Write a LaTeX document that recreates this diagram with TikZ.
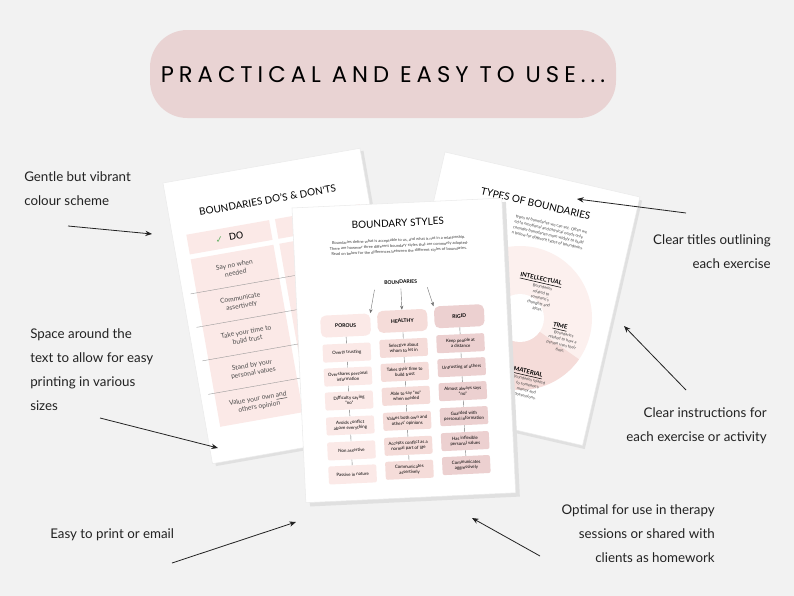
\documentclass[tikz,border=0pt]{standalone}
\usepackage{fontspec}
\setmainfont{Lato}
\newfontfamily\titlefont[LetterSpace=22]{Poppins}
\newfontfamily\symfont{DejaVu Sans}
\usetikzlibrary{arrows.meta,positioning}
\definecolor{bg}{HTML}{F2F2F2}
\definecolor{pill}{HTML}{E9D3D3}
\definecolor{pa}{HTML}{FBE9E7}
\definecolor{pb}{HTML}{F5DCD9}
\definecolor{pc}{HTML}{ECD0D0}
\definecolor{ink}{HTML}{222222}
\tikzset{
 note/.style={font=\fontsize{10}{18}\selectfont, text=ink, align=left, inner sep=0},
 noter/.style={note, align=right},
 pointer/.style={-{Stealth[length=5pt,width=4pt]}, ink, line width=0.6pt},
 page/.style={fill=white, draw=black!8},
 shadow/.style={fill=black!12},
 cell/.style={rounded corners=1.5pt, minimum width=36pt, minimum height=13.5pt, font=\fontsize{3.3}{4}\selectfont, align=center, inner sep=0.5pt, transform shape},
 head/.style={rounded corners=4pt, minimum width=37.5pt, minimum height=16.5pt, font=\bfseries\fontsize{3.8}{4}\selectfont, transform shape},
 tiny/.style={font=\fontsize{3}{4.2}\selectfont, align=center, transform shape, text=black!75},
 ptitle/.style={font=\fontsize{7.5}{8}\selectfont, transform shape},
 link/.style={black!55, line width=0.3pt},
}
\begin{document}
\begin{tikzpicture}[x=0.75pt,y=-0.75pt]
\fill[bg] (0,0) rectangle (794,596);
\useasboundingbox (0,0) rectangle (794,596);
% title pill
\fill[pill, rounded corners=28] (150,30) rectangle (616,118);
\node (title) at (383,75) {\titlefont\fontsize{17}{20}\selectfont PRACTICAL AND EASY TO USE...};

% ---------- left page
\begin{scope}[shift={(163,183)}, rotate=10]
 \fill[shadow] (3,3) rectangle (203,288);
 \path[page] (0,0) rectangle (200,285);
 \node[ptitle] (lt) at (100,35) {BOUNDARIES DO'S \& DON'TS};
 \fill[pa] (14,55) rectangle (98,75);
 \fill[pa] (104,55) rectangle (190,75);
 \node[transform shape, font=\fontsize{7}{8}\selectfont] (ldo) at (56,65) {\symfont\textcolor{green!50!black!60}{✓}\ \ DO};
 \fill[pa] (14,80) rectangle (98,250);
 \fill[pa] (104,80) rectangle (190,250);
 \foreach \y in {114,148,182,216} \draw[black!40, line width=0.3pt] (8,\y) -- (196,\y);
 \node[transform shape, font=\fontsize{5}{6}\selectfont, align=center, text=black!70] (l1) at (56,97) {Say no when\\needed};
 \node[transform shape, font=\fontsize{5}{6}\selectfont, align=center, text=black!70] (l2) at (56,131) {Communicate\\assertively};
 \node[transform shape, font=\fontsize{5}{6}\selectfont, align=center, text=black!70] (l3) at (56,165) {Take your time to\\build trust};
 \node[transform shape, font=\fontsize{5}{6}\selectfont, align=center, text=black!70] (l4) at (56,199) {Stand by your\\personal values};
 \node[transform shape, font=\fontsize{5}{6}\selectfont, align=center, text=black!70] (l5) at (56,233) {Value your own \underline{and}\\others opinion};
\end{scope}

% ---------- right page
\begin{scope}[shift={(445,152)}, rotate=-13]
 \fill[shadow] (3,3) rectangle (203,258);
 \path[page] (0,0) rectangle (200,255);
 \node[ptitle] (rt) at (100,30) {TYPES OF BOUNDARIES};
 \node[tiny, align=left] (rp) at (120,55) {types of boundaries we can set. Often we\\ed to emotional and physical needs only.\\consider boundaries more widely to build\\n below for different types of boundaries.};
\end{scope}
% donut
\fill[pa!70] (520,318) circle (72);
\fill[pb] (520,318) -- ++(35:72) arc (35:150:72) -- cycle;
\fill[white] (520,318) circle (24);
\node[transform shape, font=\bfseries\fontsize{4.5}{5}\selectfont, rotate=-13] (ti) at (541,280) {\underline{INTELLECTUAL}};
\node[tiny, rotate=-13] (tid) at (540,298) {Boundaries\\related to\\someone's\\thoughts and\\ideas.};
\node[transform shape, font=\bfseries\fontsize{4.5}{5}\selectfont, rotate=-13] (tt) at (560,327) {\underline{TIME}};
\node[tiny, rotate=-13] (ttd) at (562,342) {Boundaries\\related to how a\\person uses their\\time.};
\node[transform shape, font=\bfseries\fontsize{4.5}{5}\selectfont, rotate=-13] (tm) at (528,373) {\underline{MATERIAL}};
\node[tiny, rotate=-13] (tmd) at (527,388) {Boundaries related\\to someone's\\money and\\possessions.};

% ---------- middle page
\begin{scope}[shift={(292,208)}, rotate=2.7]
 \fill[shadow] (4,4) rectangle (214,299);
 \path[page] (0,0) rectangle (210,295);
 \node[ptitle] (mt) at (105,20) {BOUNDARY STYLES};
 \node[tiny] (mp) at (105,43) {Boundaries define what is acceptable to us, and what is not in a relationship.\\There are however three different boundary styles that are commonly adopted.\\Read on below for the differences between the different styles of boundaries.};
 \node[transform shape, font=\bfseries\fontsize{3.8}{4}\selectfont] (root) at (105,79) {BOUNDARIES};
 \node[head, fill=pa] (hp) at (48,120) {POROUS};
 \node[head, fill=pb] (hh) at (105,118) {HEALTHY};
 \node[head, fill=pc] (hr) at (162,116) {RIGID};
 \draw[link, -{Stealth[length=3pt,width=2.5pt]}] ([xshift=-4]root.south west) -- (hp.north east);
 \draw[link, -{Stealth[length=3pt,width=2.5pt]}] (root.south) -- (hh.north);
 \draw[link, -{Stealth[length=3pt,width=2.5pt]}] ([xshift=4]root.south east) -- (hr.north west);
 % porous
 \node[cell, fill=pa] (p1) at (48,147) {Overly trusting};
 \node[cell, fill=pa] (p2) at (48,171) {Overshares personal\\information};
 \node[cell, fill=pa] (p3) at (48,195) {Difficulty saying\\``no''};
 \node[cell, fill=pa] (p4) at (48,220) {Avoids conflict\\above everything};
 \node[cell, fill=pa] (p5) at (48,245) {Non assertive};
 \node[cell, fill=pa] (p6) at (48,269) {Passive in nature};
 % healthy
 \node[cell, fill=pb] (h1) at (105,145) {Selective about\\whom to let in};
 \node[cell, fill=pb] (h2) at (105,169) {Takes their time to\\build trust};
 \node[cell, fill=pb] (h3) at (105,193) {Able to say ``no''\\when needed};
 \node[cell, fill=pb] (h4) at (105,218) {Values both own and\\others' opinions};
 \node[cell, fill=pb] (h5) at (105,243) {Accepts conflict as a\\normal part of life};
 \node[cell, fill=pb] (h6) at (105,267) {Communicates\\assertively};
 % rigid
 \node[cell, fill=pc] (r1) at (162,143) {Keep people at\\a distance};
 \node[cell, fill=pc] (r2) at (162,167) {Untrusting of others};
 \node[cell, fill=pc] (r3) at (162,191) {Almost always says\\``no''};
 \node[cell, fill=pc] (r4) at (162,216) {Guarded with\\personal information};
 \node[cell, fill=pc] (r5) at (162,241) {Has inflexible\\personal values};
 \node[cell, fill=pc] (r6) at (162,265) {Communicates\\aggressively};
 \foreach \c in {p,h,r}{
  \draw[link] (h\c.south) -- (\c1.north);
 }
 \foreach \c in {p,h,r}{
  \foreach \a/\b in {1/2,2/3,3/4,4/5,5/6} \draw[link] (\c\a.south) -- (\c\b.north);
 }
\end{scope}

% ---------- annotations
\node[note, anchor=north west] (n1) at (24,171) {Gentle but vibrant\\colour scheme};
\coordinate (n1a) at (68,226); \coordinate (n1b) at (152,234);
\draw[pointer] (n1a) -- (n1b);
\node[note, anchor=north west] (n2) at (30,328) {Space around the\\text to allow for easy\\printing in various\\sizes};
\coordinate (n2a) at (100,418); \coordinate (n2b) at (218,448);
\draw[pointer] (n2a) -- (n2b);
\node[note, anchor=north west] (n3) at (50,528) {Easy to print or email};
\coordinate (n3a) at (172,563); \coordinate (n3b) at (296,522);
\draw[pointer] (n3a) -- (n3b);
\node[noter, anchor=north east] (n4) at (771,234) {Clear titles outlining\\each exercise};
\coordinate (n4a) at (686,213); \coordinate (n4b) at (577,199);
\draw[pointer] (n4a) -- (n4b);
\node[noter, anchor=north east] (n5) at (767,407) {Clear instructions for\\each exercise or activity};
\coordinate (n5a) at (686,390); \coordinate (n5b) at (624,326);
\draw[pointer] (n5a) -- (n5b);
\node[noter, anchor=north east] (n6) at (715,504) {Optimal for use in therapy\\sessions or shared with\\clients as homework};
\coordinate (n6a) at (540,556); \coordinate (n6b) at (472,518);
\draw[pointer] (n6a) -- (n6b);
\end{tikzpicture}
\end{document}
